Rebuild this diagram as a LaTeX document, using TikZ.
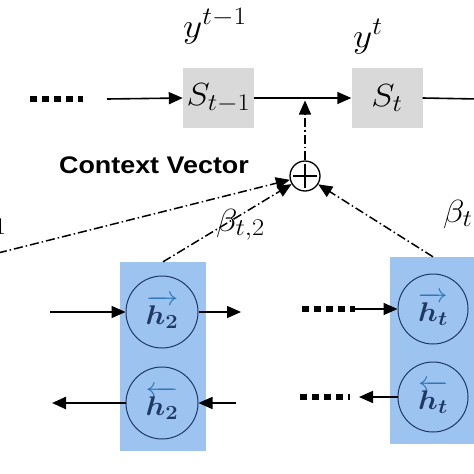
\RequirePackage{fix-cm}
\documentclass[tikz,border=0pt]{standalone}
\usepackage{amsmath,bm}
\usepackage{graphicx}
\usepackage{fontspec}
\setsansfont{Liberation Sans}
\usetikzlibrary{arrows.meta}
\DeclareMathSizes{32}{32}{24}{18}
\DeclareMathSizes{34}{34}{25}{19}
\DeclareMathSizes{27}{27}{20}{15}
\definecolor{boxblue}{RGB}{157,195,240}
\definecolor{boxgray}{RGB}{217,217,217}
\definecolor{navy}{RGB}{31,56,100}
\definecolor{arrowblue}{RGB}{46,117,182}
\newcommand{\sx}[1]{\scalebox{1.1}[1]{#1}}
\newcommand{\hf}[1]{\sx{$\color{arrowblue}\overrightarrow{\color{navy}\boldsymbol{h}_{\boldsymbol{#1}}}$}}
\newcommand{\hb}[1]{\sx{$\color{arrowblue}\overleftarrow{\color{navy}\boldsymbol{h}_{\boldsymbol{#1}}}$}}
\begin{document}
\begin{tikzpicture}[x=1pt,y=-1pt,
  tip/.style={-{Triangle[length=14pt,width=12pt]}},
  conn/.style={line width=1.6pt, tip},
  dd/.style={line width=1.5pt, dash pattern=on 9pt off 3pt on 1.5pt off 3pt, tip},
  dotline/.style={line width=6pt, dash pattern=on 7pt off 5pt},
  sbox/.style={fill=boxgray, minimum width=71pt, minimum height=60pt, inner sep=0pt, font=\fontsize{32}{32}\selectfont},
  bbox/.style={fill=boxblue, inner sep=0pt},
  hcirc/.style={circle, draw=navy, line width=1pt, minimum size=72pt, inner sep=0pt, font=\fontsize{27}{27}\selectfont},
  ylab/.style={inner sep=0pt, font=\fontsize{34}{34}\selectfont},
  blab/.style={inner sep=0pt, font=\fontsize{32}{32}\selectfont},
  ctx/.style={inner sep=0pt, font=\sffamily\bfseries\fontsize{24}{24}\selectfont}
]
\useasboundingbox (0,0) rectangle (474,474);
% blue boxes
\node[bbox, minimum width=86pt, minimum height=189pt] (b1) at (163,356.5) {};
\node[bbox, minimum width=86pt, minimum height=187pt] (b2) at (433,350.5) {};
% gray boxes
\node[sbox] (s1) at (218.5,98) {\sx{$S_{t-1}$}};
\node[sbox] (s2) at (387,98) {\sx{$S_{t}$}};
% output labels
\node[ylab, anchor=base west] (y1) at (183,37) {\sx{$y^{t-1}$}};
\node[ylab, anchor=base west] (y2) at (353,47) {\sx{$y^{t}$}};
% top chain
\draw[dotline] (30,99) coordinate (d1a) -- (83,99) coordinate (d1b);
\coordinate (a0) at (107,99);
\draw[conn] (a0) -- (s1.west);
\draw[conn] (s1.east) -- (s2.west);
\coordinate (r0) at (478,99);
\draw[line width=1.6pt] (s2.east) -- (r0);
% context vector
\node[circle, draw, line width=1.3pt, minimum size=30pt, inner sep=0pt] (plus) at (305,176) {};
\draw[line width=2.6pt] (plus.center) ++(0,-12) -- ++(0,24);
\draw[line width=2.6pt] (plus.center) ++(-12,0) -- ++(24,0);
\node[ctx] (cv) at (154,165) {\scalebox{1.12}[1]{Context Vector}};
\coordinate (vt) at (305,100.5);
\draw[dd] (plus.north) -- (vt);
\coordinate (l0) at (-2,253);
\draw[dd] (l0) -- (plus);
\draw[dd] (b1.north) -- (plus);
\draw[dd] (b2.north) -- (plus);
% beta labels
\node[blab, anchor=base east] (bt1) at (7,230) {\sx{$\beta_{t,1}$}};
\node[blab, anchor=base west] (bt2) at (216,231) {\sx{$\beta_{t,2}$}};
\node[blab, anchor=base west] (btt) at (443,222) {\sx{$\beta_{t,t}$}};
% hidden states
\node[hcirc] (f1) at (162,312) {\hf{2}};
\node[hcirc] (k1) at (162,403) {\hb{2}};
\node[hcirc, minimum size=70pt] (f2) at (433,309) {\hf{t}};
\node[hcirc, minimum size=70pt] (k2) at (433,397) {\hb{t}};
% forward/backward arrows left
\coordinate (p1) at (50,312);
\coordinate (p2) at (241,312);
\coordinate (p3) at (52,403);
\coordinate (p4) at (236,403);
\draw[conn] (p1) -- (f1.west);
\draw[conn] (f1.east) -- (p2);
\draw[conn, line width=2.4pt] (k1.west) -- (p3);
\draw[conn] (p4) -- (k1.east);
% right side
\draw[dotline] (302,309) -- (355,309) coordinate (q1);
\draw[conn] (q1) -- (f2.west);
\draw[dotline] (300,397) -- (350,397);
\coordinate (q2) at (359,397);
\draw[conn] (k2.west) -- (q2);
\end{tikzpicture}
\end{document}
